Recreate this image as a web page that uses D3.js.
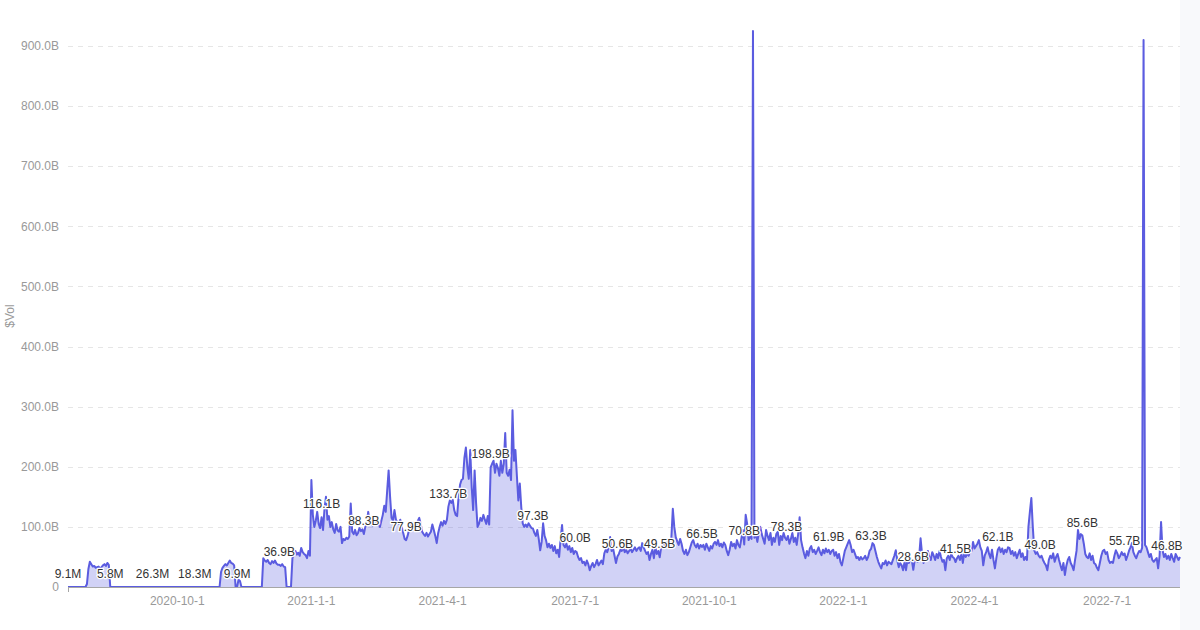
<!DOCTYPE html>
<html><head><meta charset="utf-8">
<script src="https://cdn.jsdelivr.net/npm/d3@7"></script>
<style>
body{margin:0;background:#fff;}
svg{display:block;font-family:"Liberation Sans",Arial,sans-serif;}
</style>
</head><body>
<svg id="chart" width="1200" height="630"></svg>
<script>
// ---- data (daily volume, in billions of USD) ----
const startDate = "2020-07-18";
const volumesB = [
// d0-28
0.0091,0.01,0.01,0.01,0.01,0.01,0.01,0.01,0.01,0.01,0.01,0.01,0.01,
5,30,42,38,34,35,32,33,34,31,33,36,38,35,40,37,
// d29-57
0.0058,0.01,0.01,0.01,0.01,0.01,0.01,0.01,0.01,0.01,0.01,0.01,0.01,0.01,0.01,0.01,0.01,0.01,0.01,0.01,0.01,0.01,0.01,0.01,0.01,0.01,0.01,0.01,0.01,
// d58-86
0.0263,0.01,0.01,0.01,0.01,0.01,0.01,0.01,0.01,0.01,0.01,0.01,0.01,0.01,0.01,0.01,0.01,0.01,0.01,0.01,0.01,0.01,0.01,0.01,0.01,0.01,0.01,0.01,0.01,
// d87-115
0.0183,0.01,0.01,0.01,0.01,0.01,0.01,0.01,0.01,0.01,0.01,0.01,0.01,0.01,0.01,0.01,0.01,
0.01,25,32,35,38,36,40,44,40,39,36,0.01,
// d116-144
0.0099,12,10,0.01,0.01,0.01,0.01,0.01,0.01,0.01,0.01,0.01,0.01,0.01,0.01,0.01,0.01,0.01,
48,44,42,45,40,38,43,40,44,39,37,
// d145-173
36.9,35,38,34,33,0.01,0.01,0.01,0.01,
48,55,60,54,57,52,65,58,55,53,48,60,52,178,120,100,110,125,105,98,
// d174-202
116.1,95,130,150,112,118,100,108,96,90,105,94,92,100,73,80,78,82,80,84,139,92,88,95,86,90,98,93,96,
// d203-231
88.3,100,108,125,105,110,102,108,105,112,106,100,110,120,135,125,160,194,150,115,110,128,112,108,105,112,100,90,80,
// d232-260
77.9,85,95,100,105,98,108,100,110,115,105,92,88,85,90,84,88,92,104,95,85,73,90,100,108,102,110,105,112,
// d261-289
133.7,144,140,145,128,120,118,150,170,178,180,215,232,200,180,228,166,128,194,140,100,105,115,110,120,112,105,118,104,
// d290-318
198.9,205,210,190,205,198,185,210,190,205,256,190,185,195,178,294,210,228,185,144,172,133,106,100,104,100,106,102,98,
// d319-347
97.3,90,85,95,80,61,75,106,85,78,66,72,65,70,60,68,56,62,50,80,103,70,66,72,62,68,58,65,55,
// d348-376
60.0,58,50,45,48,40,42,36,44,38,28,35,40,33,38,45,36,40,44,38,56,62,58,66,83,60,64,52,40,
// d377-405
50.6,55,62,60,66,58,62,56,60,64,58,62,66,60,64,66,60,73,66,60,55,58,45,55,62,48,66,55,60,
// d406-434
49.5,66,73,70,78,72,80,76,82,130,100,83,76,70,80,72,60,55,62,53,58,66,74,78,70,66,72,64,70,
// d435-463
66.5,70,62,72,66,60,68,64,72,75,70,78,68,72,66,74,70,60,53,62,75,68,72,64,78,70,66,80,95,
// d464-492
70.8,120,105,78,85,80,925,82,88,75,90,100,88,80,72,95,85,78,90,70,82,75,88,92,70,85,78,90,82,
// d493-521
78.3,85,72,80,90,75,82,70,88,116,78,66,56,48,60,52,64,68,58,62,55,60,66,58,53,62,56,64,58,
// d522-550
61.9,55,60,62,52,58,48,55,42,36,48,60,66,72,78,70,58,62,55,48,50,45,50,46,48,52,45,50,60,
// d551-579
63.3,73,70,60,50,42,36,31,40,38,44,36,42,40,38,45,52,61,45,33,40,36,28,42,28,45,40,48,44,
// d580-608
28.6,45,48,42,50,81,55,40,48,55,60,50,45,58,52,45,55,48,60,50,42,45,28,48,52,45,55,50,48,
// d609-637
41.5,48,52,45,55,40,58,50,56,52,62,60,75,64,68,72,78,66,60,36,52,58,66,55,48,62,45,31,48,
// d638-666
62.1,66,58,64,55,62,58,66,65,55,60,52,58,48,55,62,50,56,45,50,45,100,125,148,100,61,55,58,52,
// d667-695
49.0,52,45,40,36,28,45,52,48,56,42,50,55,45,36,28,40,20,35,45,50,40,35,28,45,60,95,80,88,
// d696-724
85.6,72,55,50,48,56,45,52,40,38,32,28,40,52,60,62,55,58,45,40,42,40,52,61,56,48,52,58,53,
// d725-753
55.7,45,52,60,66,73,58,52,48,55,60,58,65,910,70,66,58,50,55,45,42,45,48,31,52,108,62,50,55,
// d754-763
46.8,52,45,55,48,42,55,50,45,50
];
const labelEvery = 29;
const yTicksB = [0,100,200,300,400,500,600,700,800,900];
const xTickDates = ["2020-10-1","2021-1-1","2021-4-1","2021-7-1","2021-10-1","2022-1-1","2022-4-1","2022-7-1"];
const yAxisTitle = "$Vol";

// ---- layout ----
const plotLeft = 68, plotRight = 1180, plotTop = 31, plotBottom = 587;
const lineColor = "#5b5ce0";

function parseDay(s){ const p = s.split("-").map(Number); return new Date(p[0], p[1]-1, p[2]); }
const startDay = parseDay(startDate);
const series = volumesB.map((v,i)=>({date: d3.timeDay.offset(startDay, i), v, i}));

const xScale = d3.scaleTime().domain(d3.extent(series, d=>d.date)).range([plotLeft, plotRight]);
const yScale = d3.scaleLinear().domain([0, d3.max(volumesB)]).range([plotBottom, plotTop]);

const svg = d3.select("#chart");

// right side panel
svg.append("rect").attr("x", plotRight).attr("y", 0).attr("width", 1200-plotRight).attr("height", 630).attr("fill", "#f8f9fb");

// gridlines
svg.append("g").selectAll("line").data(yTicksB.filter(t=>t>0)).join("line")
  .attr("x1", plotLeft).attr("x2", plotRight)
  .attr("y1", d=>Math.round(yScale(d))+0.5).attr("y2", d=>Math.round(yScale(d))+0.5)
  .attr("stroke", "#e6e6e6").attr("stroke-width", 1).attr("stroke-dasharray", "5,5");

// y tick labels
function fmtB(v){ return v === 0 ? "0" : v.toFixed(1) + "B"; }
svg.append("g").selectAll("text").data(yTicksB).join("text")
  .attr("x", 59).attr("y", d=>yScale(d)).attr("dy", "0.35em")
  .attr("text-anchor", "end").attr("font-size", 12).attr("fill", "#999")
  .text(fmtB);

// y title
svg.append("text").attr("transform", "translate(14,316) rotate(-90)")
  .attr("text-anchor", "middle").attr("font-size", 12).attr("fill", "#999").text(yAxisTitle);

// area + line
const areaGen = d3.area().x(d=>xScale(d.date)).y0(plotBottom).y1(d=>yScale(d.v));
const lineGen = d3.line().x(d=>xScale(d.date)).y(d=>yScale(d.v));
svg.append("path").datum(series).attr("d", areaGen).attr("fill", lineColor).attr("fill-opacity", 0.28);
svg.append("path").datum(series).attr("d", lineGen).attr("fill", "none")
  .attr("stroke", lineColor).attr("stroke-width", 2).attr("stroke-linejoin", "round");

// x axis
svg.append("line").attr("x1", plotLeft).attr("x2", plotRight).attr("y1", plotBottom+0.5).attr("y2", plotBottom+0.5)
  .attr("stroke", "#a6a6a6").attr("stroke-width", 1);
svg.append("line").attr("x1", plotLeft+0.5).attr("x2", plotLeft+0.5).attr("y1", plotBottom).attr("y2", plotBottom+5)
  .attr("stroke", "#a6a6a6").attr("stroke-width", 1);
svg.append("g").selectAll("text").data(xTickDates).join("text")
  .attr("x", d=>xScale(parseDay(d))).attr("y", 605)
  .attr("text-anchor", "middle").attr("font-size", 12).attr("fill", "#999")
  .text(d=>d);

// point labels
function fmtLabel(v){ return v < 1 ? (v*1000).toFixed(1) + "M" : v.toFixed(1) + "B"; }
svg.append("g").selectAll("text").data(series.filter(d=>d.i % labelEvery === 0)).join("text")
  .attr("x", d=>xScale(d.date)).attr("y", d=>yScale(d.v) - 9)
  .attr("text-anchor", "middle").attr("font-size", 12).attr("fill", "#333")
  .attr("stroke", "#fff").attr("stroke-width", 2.5).attr("paint-order", "stroke").attr("stroke-linejoin", "round")
  .text(d=>fmtLabel(d.v));
</script>
</body></html>
